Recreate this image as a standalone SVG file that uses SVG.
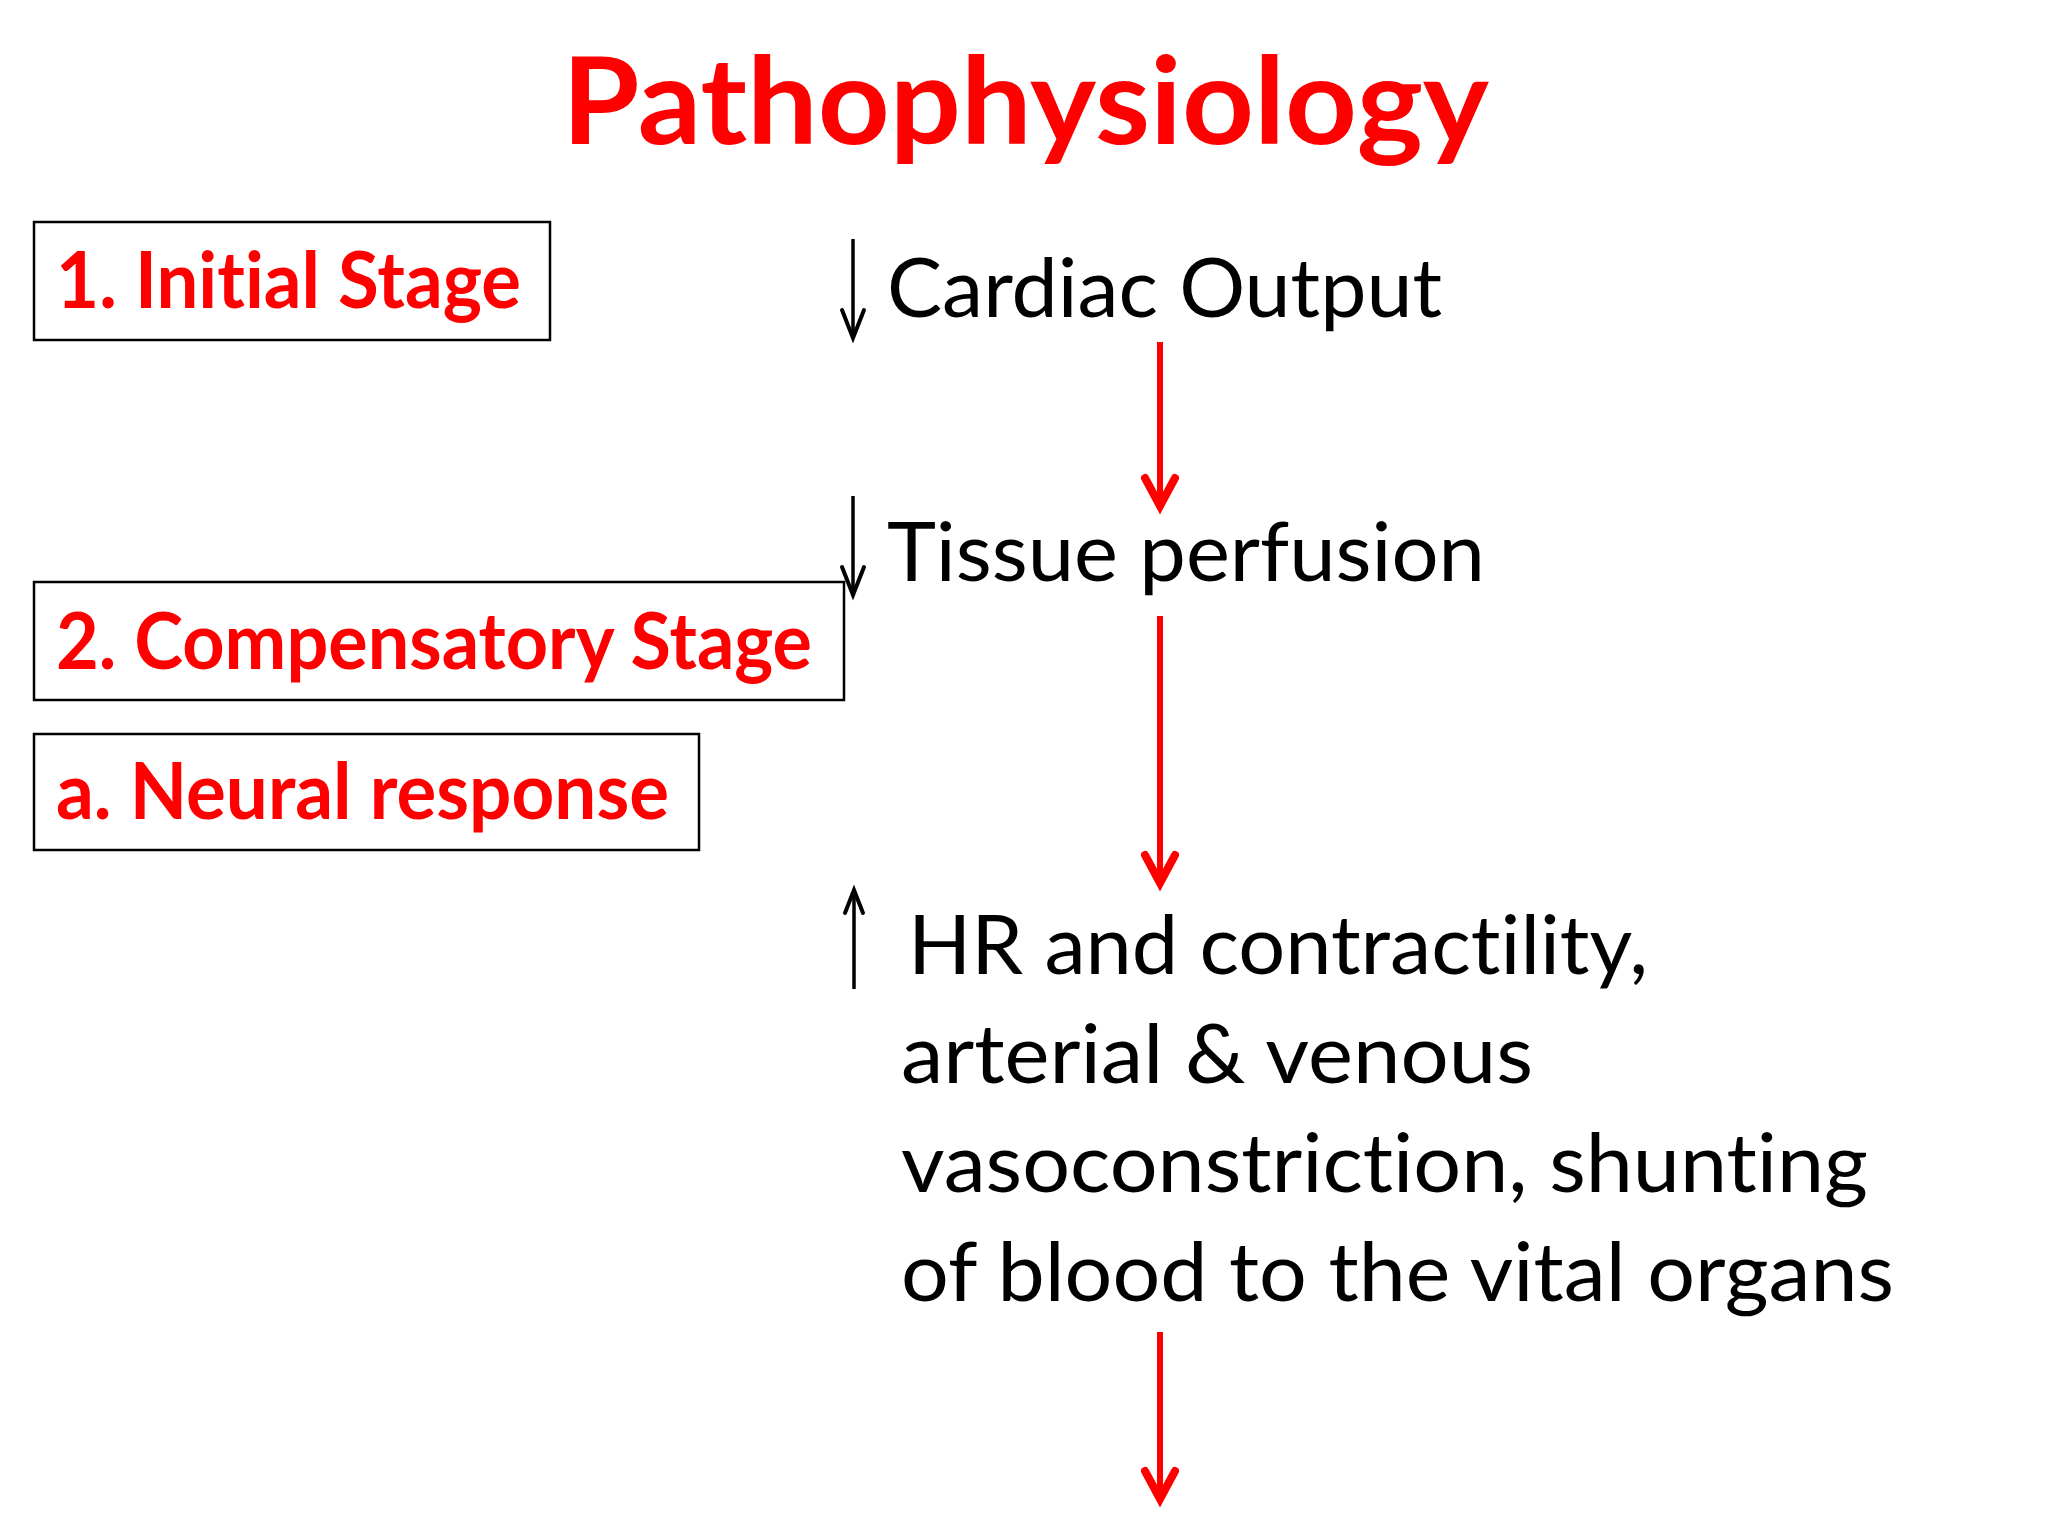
<svg xmlns="http://www.w3.org/2000/svg" width="2048" height="1536" viewBox="0 0 2048 1536">
<defs>
<style>
text{font-variant-ligatures:none;font-feature-settings:"liga" 0,"clig" 0}
.title{font-family:Lato,"Open Sans","Liberation Sans",sans-serif;font-weight:bold;font-size:120px;fill:#ff0000}
.stage{font-family:Lato,"Open Sans","Liberation Sans",sans-serif;font-weight:bold;font-size:79px;fill:#ff0000}
.body{font-family:Lato,"Open Sans","Liberation Sans",sans-serif;font-size:81px;fill:#000}
.box{fill:none;stroke:#000;stroke-width:2.5}
.red{stroke:#ff0000;stroke-width:6;fill:none}
.redhead{stroke:#ff0000;stroke-width:8;fill:none;stroke-linecap:round;stroke-linejoin:miter}
.blk{stroke:#000;stroke-width:3.5;fill:none}
.blkhead{stroke:#000;stroke-width:4;fill:none;stroke-linejoin:miter;stroke-linecap:round}
</style>
</defs>
<rect width="2048" height="1536" fill="#fff"/>
<g id="title"><text class="title" x="562" y="144" textLength="927" lengthAdjust="spacingAndGlyphs">Pathophysiology</text></g>
<g id="stage1"><rect class="box" x="34" y="222" width="516" height="118"/><text class="stage" x="56" y="308" textLength="465" lengthAdjust="spacingAndGlyphs">1. Initial Stage</text></g>
<g id="stage2"><rect class="box" x="34" y="582" width="810" height="118"/><text class="stage" x="56" y="669" textLength="756" lengthAdjust="spacingAndGlyphs">2. Compensatory Stage</text></g>
<g id="neural"><rect class="box" x="34" y="734" width="665" height="116"/><text class="stage" x="56" y="819" textLength="613" lengthAdjust="spacingAndGlyphs">a. Neural response</text></g>
<g id="cardiac"><line class="blk" x1="853" y1="239" x2="853" y2="337"/><polyline class="blkhead" points="842,310 853,338 864,310"/><text class="body" x="887" y="317" textLength="555" lengthAdjust="spacingAndGlyphs">Cardiac Output</text></g>
<g id="tissue"><line class="blk" x1="853" y1="496" x2="853" y2="594"/><polyline class="blkhead" points="842,567 853,595 864,567"/><text class="body" x="887" y="581" textLength="598" lengthAdjust="spacingAndGlyphs">Tissue perfusion</text></g>
<g id="hr"><line class="blk" x1="854" y1="891" x2="854" y2="989"/><polyline class="blkhead" points="845,913 854,890 863,913"/>
<text class="body" x="908" y="974" textLength="740" lengthAdjust="spacingAndGlyphs">HR and contractility,</text>
<text class="body" x="901" y="1083" textLength="632" lengthAdjust="spacingAndGlyphs">arterial &amp; venous</text>
<text class="body" x="901" y="1192" textLength="967" lengthAdjust="spacingAndGlyphs">vasoconstriction, shunting</text>
<text class="body" x="901" y="1301" textLength="993" lengthAdjust="spacingAndGlyphs">of blood to the vital organs</text></g>
<g id="connectors">
<line class="red" x1="1160" y1="342" x2="1160" y2="505"/><polyline class="redhead" points="1145,478 1160,506 1175,478"/>
<line class="red" x1="1160" y1="616" x2="1160" y2="882"/><polyline class="redhead" points="1145,855 1160,883 1175,855"/>
<line class="red" x1="1160" y1="1332" x2="1160" y2="1498"/><polyline class="redhead" points="1145,1471 1160,1499 1175,1471"/>
</g>
</svg>
